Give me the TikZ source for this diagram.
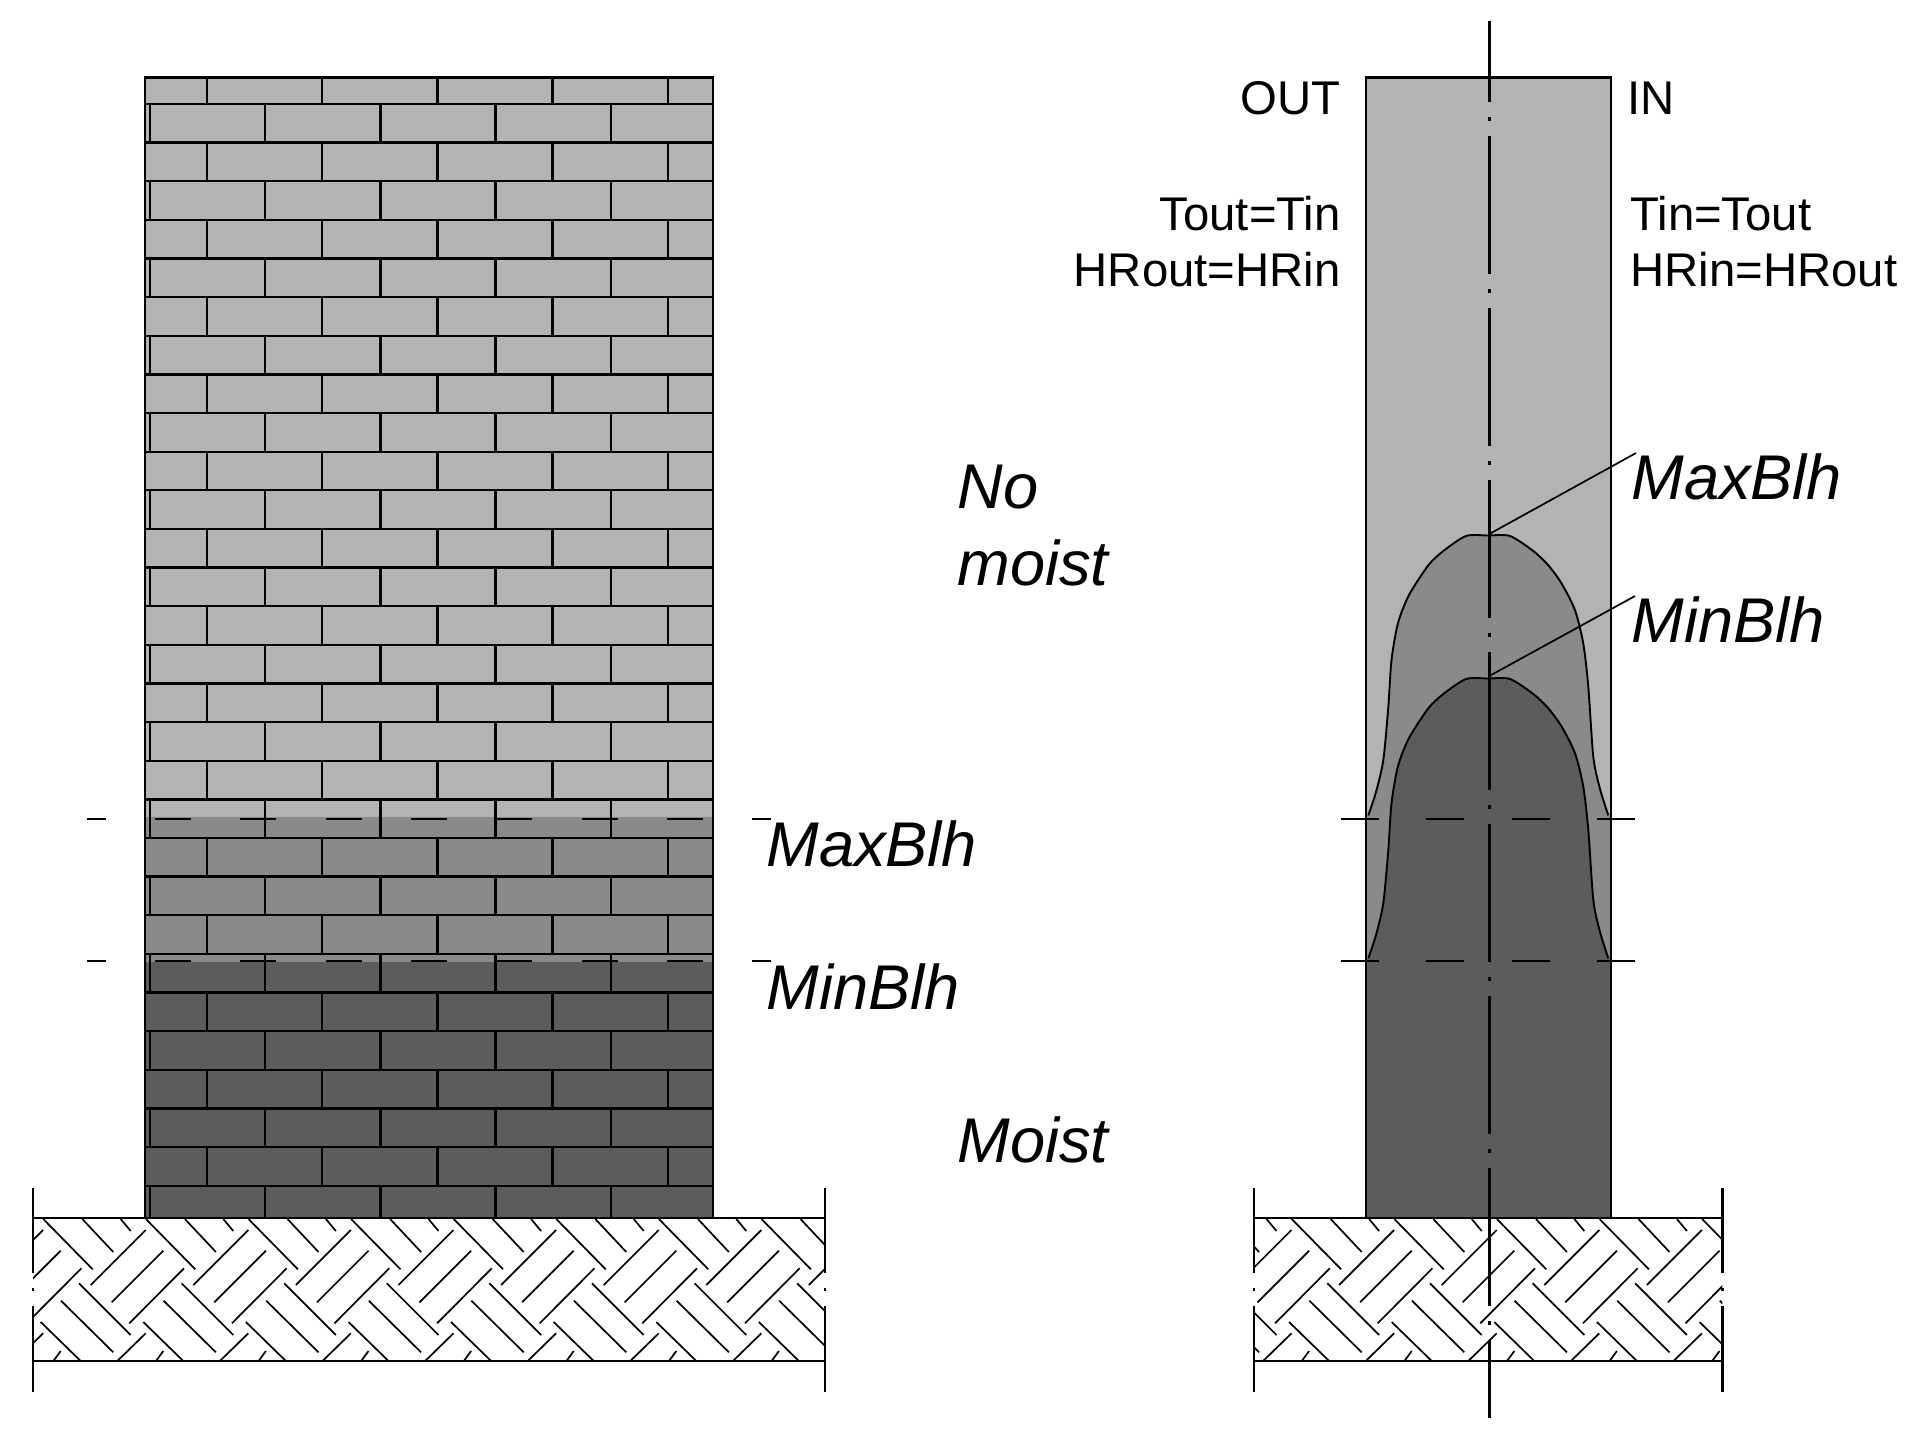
\documentclass[tikz,border=0pt]{standalone}
\usepackage{fontspec}
\setmainfont{Liberation Sans}
\definecolor{lightg}{HTML}{B3B3B3}
\definecolor{midg}{HTML}{8A8A8A}
\definecolor{darkg}{HTML}{5C5C5C}
\tikzset{
  wall/.style={draw=black,line width=1.15pt},
  brickline/.style={draw=black,line width=1.15pt},
  hatchline/.style={draw=black,line width=0.85pt},
  levelline/.style={draw=black,line width=1pt},
  wallend/.style={draw=black,line width=1.2pt,dash pattern=on 42.7pt off 7.5pt on 1.5pt off 7.5pt on 60pt},
  axisline/.style={draw=black,line width=1.2pt,dash pattern=on 69pt off 7.5pt on 2pt off 7.5pt,dash phase=28.5pt},
  leader/.style={draw=black,line width=0.85pt},
  arch/.style={draw=black,line width=0.95pt},
  bigl/.style={font=\fontsize{31.6}{36}\selectfont\itshape,inner sep=0pt,anchor=base west},
  smallr/.style={font=\fontsize{23.65}{28}\selectfont,inner sep=0pt,anchor=base east},
  smalll/.style={font=\fontsize{23.65}{28}\selectfont,inner sep=0pt,anchor=base west},
}
\newcommand{\hatchtile}{%
  \draw[hatchline] (43.3,1219)--(92.7,1269.3) (82.3,1219)--(113.3,1252) (120.7,1219)--(130.7,1231)
    (79,1283.3)--(130.7,1335) (61,1300.7)--(113.3,1352.3) (40.7,1322)--(80.7,1361)
    (90.7,1285)--(145.7,1230) (111.7,1302.3)--(163.3,1250.7) (129.3,1323.3)--(184,1268.3)
    (117.3,1361)--(145.7,1333.3) (156,1361)--(163.3,1351);}
\newcommand{\archpath}{plot[smooth,tension=0.45] coordinates {(1368.3,958.3) (1376,935) (1383.3,903) (1388.3,850) (1391.5,803) (1398,766) (1409,738) (1428.3,708.3) (1443.3,694) (1466,679) (1488,678.5) (1510,679) (1533.3,694) (1548.3,708.3) (1561.7,726.7) (1575,753.3) (1583.3,786.7) (1588.3,830) (1593.3,900) (1600,932) (1608.3,958.3)}}
\begin{document}
\begin{tikzpicture}[x=0.5pt,y=-0.5pt,line cap=butt]
\useasboundingbox (0,0) rectangle (1910,1441);
\fill[white] (0,0) rectangle (1910,1441);
% left wall fills
\fill[lightg] (145,77.5) rectangle (713,817);
\fill[midg] (145,817) rectangle (713,961.7);
\fill[darkg] (145,961.7) rectangle (713,1218);
% courses
\foreach \n in {0,...,28}{
  \pgfmathsetmacro{\yy}{104+38.63*\n}
  \draw[brickline] (145,\yy)--(713,\yy);
}
\foreach \n in {0,...,29}{
  \pgfmathsetmacro{\ya}{\n==0 ? 77.5 : 104+38.63*(\n-1)}
  \pgfmathsetmacro{\yb}{\n==29 ? 1218 : 104+38.63*\n}
  \pgfmathtruncatemacro{\odd}{mod(\n,2)}
  \ifnum\odd=0
    \foreach \x in {207,322.2,437.4,552.6,667.8}{\draw[brickline] (\x,\ya)--(\x,\yb);}
  \else
    \foreach \x in {150,265.2,380.4,495.6,610.8}{\draw[brickline] (\x,\ya)--(\x,\yb);}
  \fi
}
\draw[wall] (145,1218)--(145,77.5)--(713,77.5)--(713,1218);
% left ground
\begin{scope}
  \clip (33,1219) rectangle (825,1361);
  \foreach \k in {-1,...,7}{
    \begin{scope}[shift={(\k*102.6,0)}]\hatchtile\end{scope}
  }
\end{scope}
\draw[brickline] (33,1218)--(825,1218) (33,1361)--(825,1361);
\coordinate (gl1) at (33,1187.7); \coordinate (gl2) at (33,1392);
\coordinate (gl3) at (825,1187.7); \coordinate (gl4) at (825,1392);
\draw[wallend] (gl1)--(gl2);
\draw[wallend] (gl3)--(gl4);
% left level lines
\draw[levelline,dash pattern=on 18pt off 24.65pt,dash phase=8.65pt] (87,818.7)--(771,818.7);
\draw[levelline,dash pattern=on 18pt off 24.65pt,dash phase=8.65pt] (87,961)--(771,961);
% right wall fills
\fill[lightg] (1366,77.5) rectangle (1610.7,815);
\fill[midg] (1366,815) rectangle (1610.7,958.3);
\fill[darkg] (1366,958.3) rectangle (1610.7,1218);
\begin{scope}[yshift=71.5pt]
  \fill[midg] \archpath -- cycle;
\end{scope}
\fill[darkg] \archpath -- cycle;
\begin{scope}[yshift=71.5pt]
  \draw[arch] \archpath;
\end{scope}
\draw[arch] \archpath;
\draw[wall] (1366,1218)--(1366,77.5)--(1610.7,77.5)--(1610.7,1218);
% right ground
\begin{scope}
  \clip (1254,1219) rectangle (1722.3,1361);
  \foreach \k in {-1,...,4}{
    \begin{scope}[shift={(1248.4+\k*102.6,0)}]\hatchtile\end{scope}
  }
\end{scope}
\draw[brickline] (1254,1218)--(1722.3,1218) (1254,1361)--(1722.3,1361);
\coordinate (gr1) at (1254,1187.7); \coordinate (gr2) at (1254,1392);
\coordinate (gr3) at (1722.3,1187.7); \coordinate (gr4) at (1722.3,1392);
\draw[wallend] (gr1)--(gr2);
\draw[wallend] (gr3)--(gr4);
% right level lines and axis
\draw[levelline,dash pattern=on 19pt off 23.65pt] (1341,819)--(1635,819);
\draw[levelline,dash pattern=on 19pt off 23.65pt] (1341,961)--(1635,961);
\coordinate (axt) at (1489.3,21); \coordinate (axb) at (1489.3,1418);
\draw[axisline] (axt)--(axb);
% labels
\node[bigl] (maxl) at (766,866) {MaxBlh};
\node[bigl] (minl) at (766,1009) {MinBlh};
\node[bigl] (nol) at (957,508) {No};
\node[bigl] (moistl) at (957,585) {moist};
\node[bigl] (moistb) at (957,1162) {Moist};
\node[bigl] (maxr) at (1631,499) {MaxBlh};
\node[bigl] (minr) at (1631,642) {MinBlh};
\node[smallr] (outl) at (1341,114) {OUT};
\node[smalll] (inl) at (1627,114) {IN};
\node[smallr] (tl) at (1341,230) {Tout=Tin};
\node[smallr] (hl) at (1341,286) {HRout=HRin};
\node[smalll] (tr) at (1630,230) {Tin=Tout};
\node[smalll] (hr) at (1630,286) {HRin=HRout};
% leaders
\coordinate (topmax) at (1489.3,534); \coordinate (endmax) at (1636,453);
\coordinate (topmin) at (1489.3,676); \coordinate (endmin) at (1635,596);
\draw[leader] (topmax)--(endmax);
\draw[leader] (topmin)--(endmin);
\end{tikzpicture}
\end{document}
